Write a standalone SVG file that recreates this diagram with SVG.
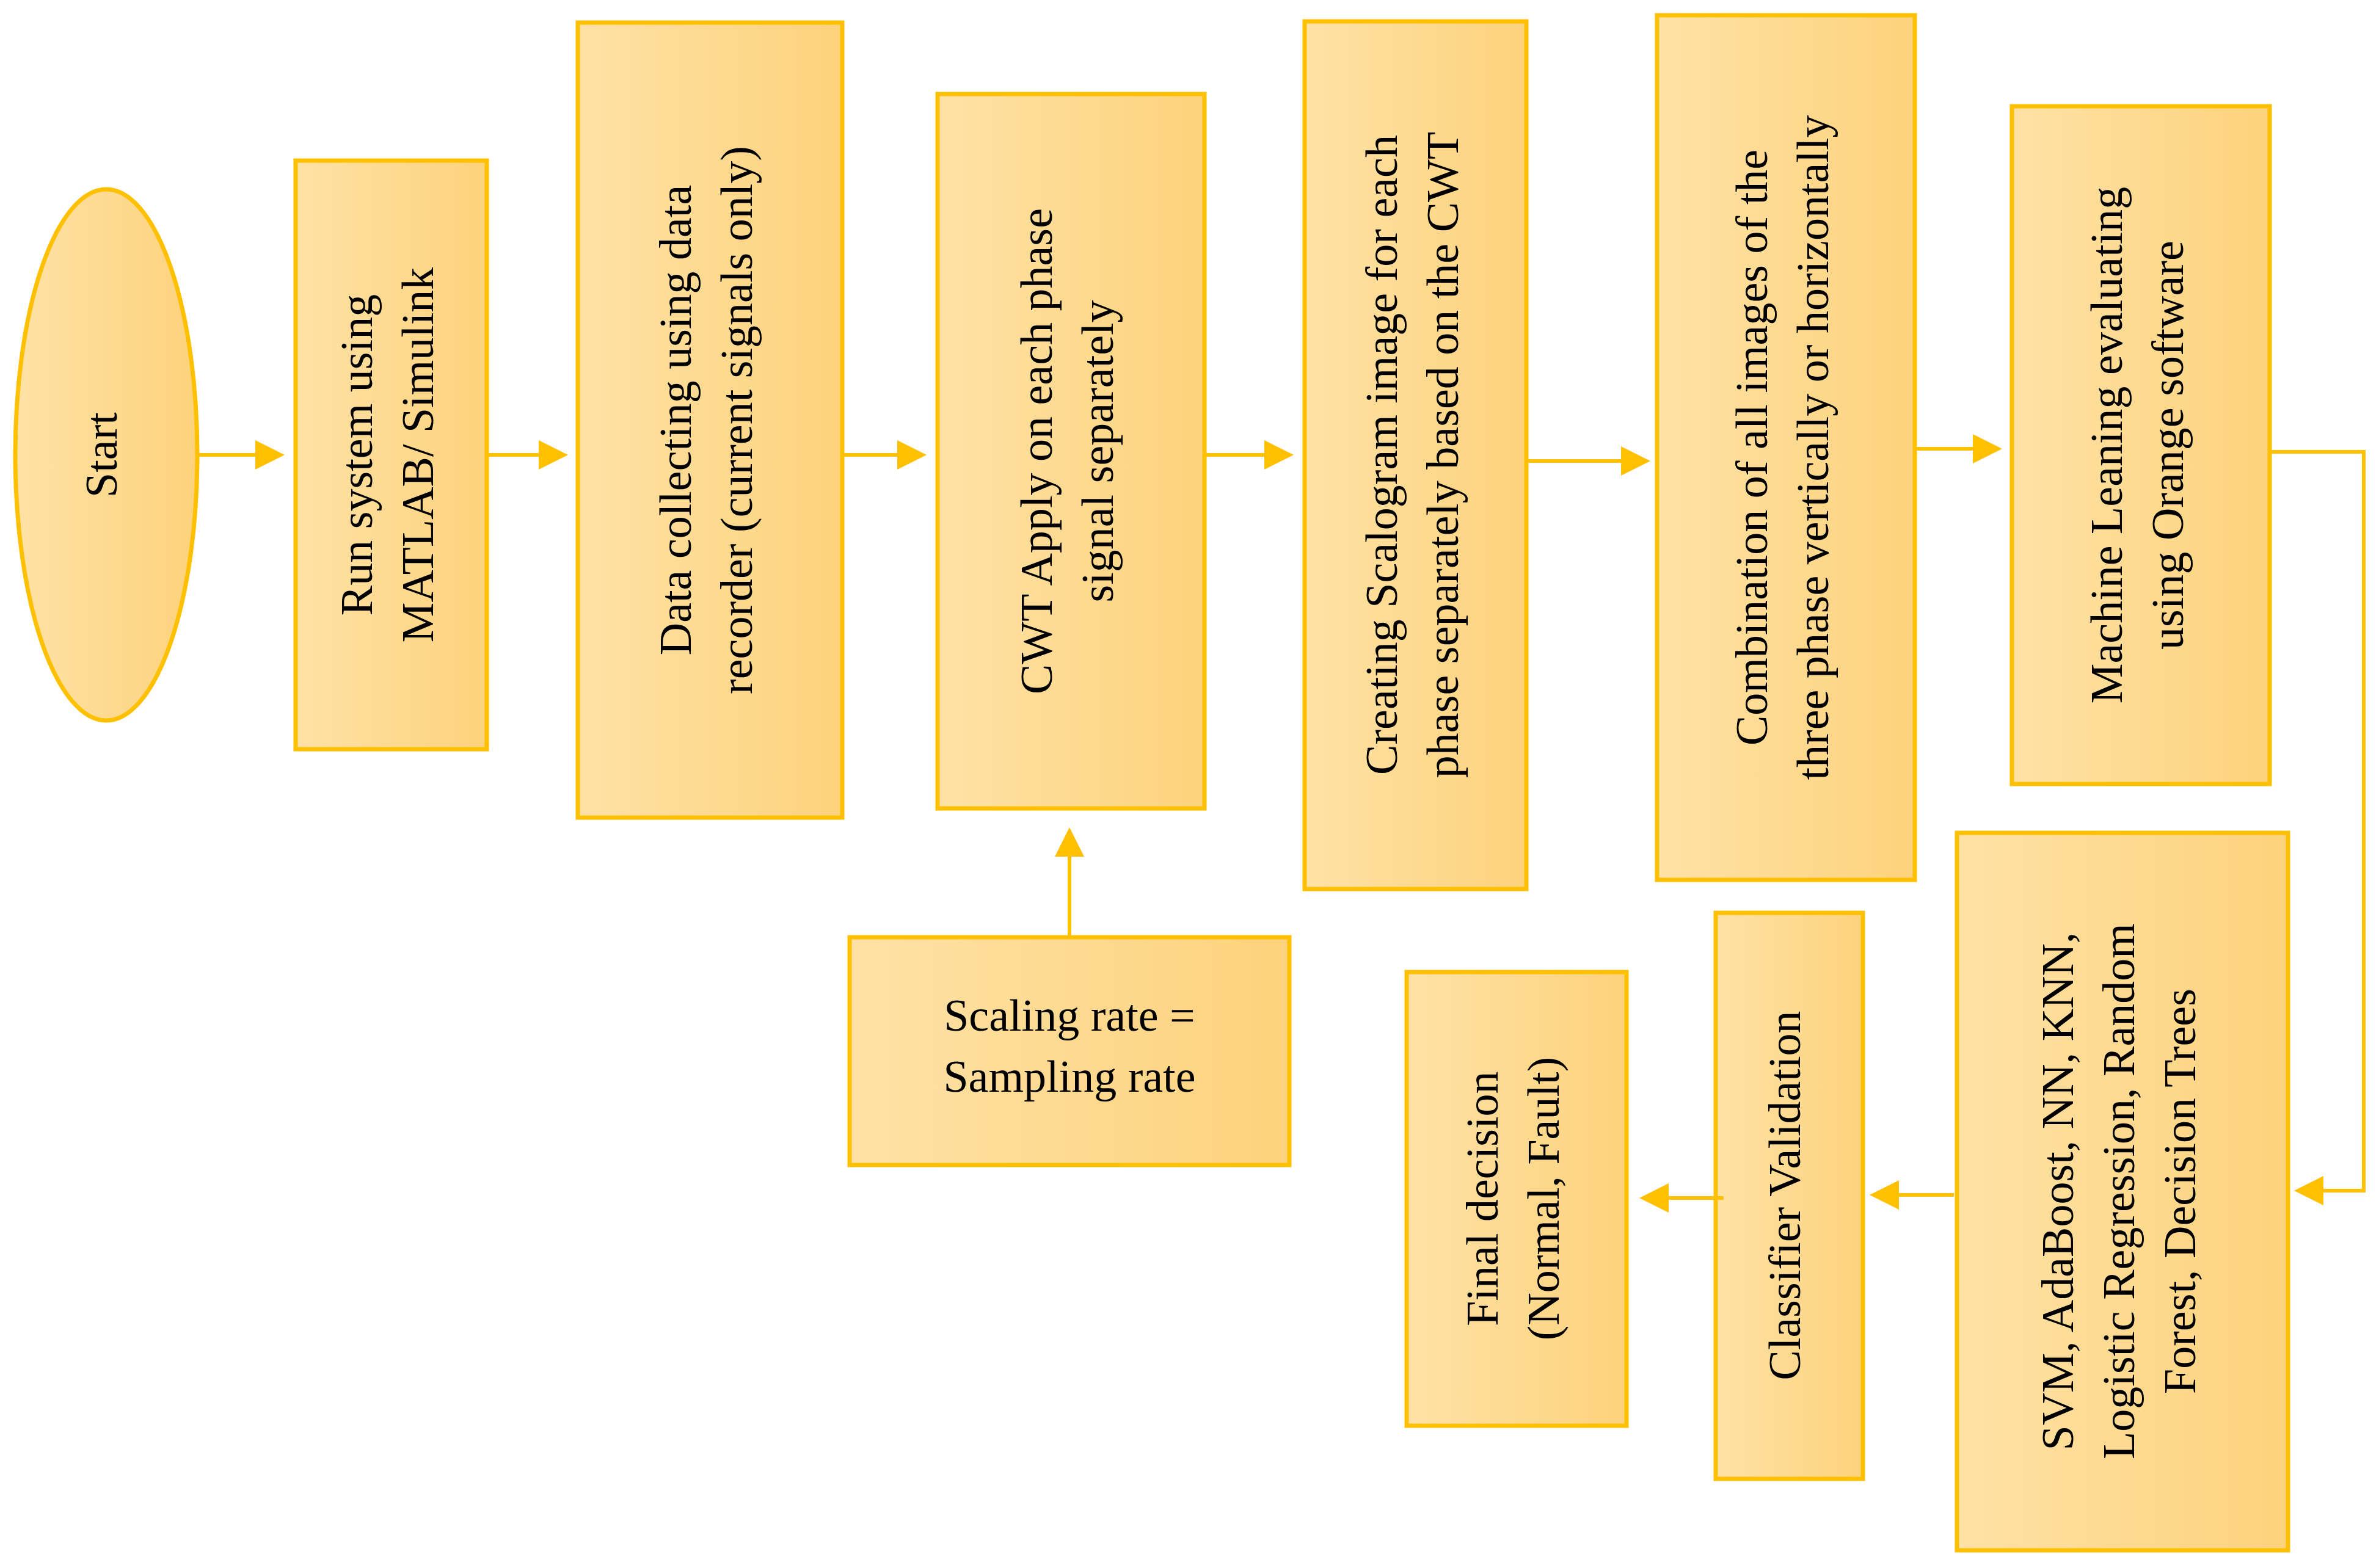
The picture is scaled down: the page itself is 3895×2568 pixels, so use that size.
<svg xmlns="http://www.w3.org/2000/svg" width="3895" height="2568" viewBox="0 0 3895 2568">
<style>
.n{stroke:#FFC000;stroke-width:7;fill:url(#g)}
.t{font-family:"Liberation Serif",serif;font-size:74px;fill:#000;text-anchor:middle;dominant-baseline:middle}
.c{stroke:#FFC000;stroke-width:6;fill:none;marker-end:url(#a)}
</style>
<defs>
<linearGradient id="g" x1="0" y1="0" x2="1" y2="0"><stop offset="0" stop-color="#FEE2A6"/><stop offset="1" stop-color="#FDD27C"/></linearGradient>
<marker id="a" markerWidth="8" markerHeight="8" refX="7" refY="4" orient="auto" markerUnits="strokeWidth"><path d="M0,0 L8,4 L0,8 z" fill="#FFC000"/></marker>
</defs>
<rect width="3895" height="2568" fill="#fff"/>
<g id="start"><ellipse class="n" cx="174" cy="745" rx="149" ry="435"/><text class="t" transform="rotate(-90 174 745)" x="174" y="745">Start</text></g>
<g id="run"><rect class="n" x="484" y="263" width="313" height="964"/><text class="t" transform="rotate(-90 640 745)" x="640" y="745"><tspan x="640" dy="-48">Run system using</tspan><tspan x="640" dy="100">MATLAB/ Simulink</tspan></text></g>
<g id="data"><rect class="n" x="946" y="37" width="433" height="1302"/><text class="t" transform="rotate(-90 1162 688)" x="1162" y="688"><tspan x="1162" dy="-48">Data collecting using data</tspan><tspan x="1162" dy="100">recorder (current signals only)</tspan></text></g>
<g id="cwt"><rect class="n" x="1535" y="154" width="437" height="1170"/><text class="t" transform="rotate(-90 1753 739)" x="1753" y="739"><tspan x="1753" dy="-48">CWT Apply on each phase</tspan><tspan x="1753" dy="100">signal separately</tspan></text></g>
<g id="scaling"><rect class="n" x="1391" y="1535" width="720" height="373"/><text class="t" x="1751" y="1721"><tspan x="1751" dy="-50">Scaling rate =</tspan><tspan x="1751" dy="100">Sampling rate</tspan></text></g>
<g id="scalogram"><rect class="n" x="2136" y="35" width="363" height="1421"/><text class="t" transform="rotate(-90 2318 745)" x="2318" y="745"><tspan x="2318" dy="-48">Creating Scalogram image for each</tspan><tspan x="2318" dy="100">phase separately based on the CWT</tspan></text></g>
<g id="combination"><rect class="n" x="2713" y="25" width="422" height="1416"/><text class="t" transform="rotate(-90 2924 733)" x="2924" y="733"><tspan x="2924" dy="-48">Combination of all images of the</tspan><tspan x="2924" dy="100">three phase vertically or horizontally</tspan></text></g>
<g id="ml"><rect class="n" x="3294" y="174" width="422" height="1110"/><text class="t" transform="rotate(-90 3505 729)" x="3505" y="729"><tspan x="3505" dy="-48">Machine Leaning evaluating</tspan><tspan x="3505" dy="100">using Orange software</tspan></text></g>
<g id="svm"><rect class="n" x="3204" y="1364" width="542" height="1175"/><text class="t" transform="rotate(-90 3475 1951)" x="3475" y="1951"><tspan x="3475" dy="-98">SVM, AdaBoost, NN, KNN,</tspan><tspan x="3475" dy="100">Logistic Regression, Random</tspan><tspan x="3475" dy="100">Forest, Decision Trees</tspan></text></g>
<g id="classifier"><rect class="n" x="2809" y="1495" width="241" height="927"/><text class="t" transform="rotate(-90 2930 1958)" x="2930" y="1958">Classifier Validation</text></g>
<g id="final"><rect class="n" x="2303" y="1592" width="360" height="743"/><text class="t" transform="rotate(-90 2483 1963)" x="2483" y="1963"><tspan x="2483" dy="-48">Final decision</tspan><tspan x="2483" dy="100">(Normal, Fault)</tspan></text></g>
<g id="connectors">
<path class="c" d="M325 745H460"/>
<path class="c" d="M797 745H924"/>
<path class="c" d="M1379 745H1511"/>
<path class="c" d="M1972 745H2112"/>
<path class="c" d="M2499 755H2696"/>
<path class="c" d="M3135 735H3272"/>
<path class="c" d="M3716 740H3870V1950H3762"/>
<path class="c" d="M3199 1957H3067"/>
<path class="c" d="M2822 1962H2690"/>
<path class="c" d="M1751 1535V1361"/>
</g>
</svg>
